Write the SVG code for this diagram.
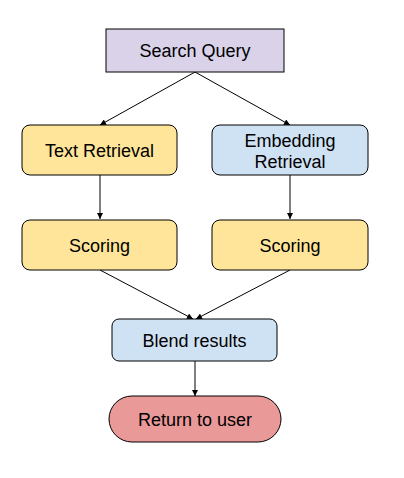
<svg xmlns="http://www.w3.org/2000/svg" width="404" height="478" viewBox="0 0 404 478">
<defs>
<style>
.n{stroke:#000;stroke-width:1}
.t{font-family:"Liberation Sans",Arial,sans-serif;font-size:18px;fill:#000;text-anchor:middle}
.c{stroke:#000;stroke-width:1;fill:none;marker-end:url(#ah)}
</style>
<marker id="ah" viewBox="0 0 10 10" refX="10" refY="5" markerWidth="7" markerHeight="6" orient="auto" markerUnits="userSpaceOnUse">
<path d="M0,0 L10,5 L0,10 z" fill="#000"/>
</marker>
</defs>
<rect width="404" height="478" fill="#fff"/>
<g id="connectors">
<line class="c" x1="195" y1="72" x2="100" y2="125"/>
<line class="c" x1="195" y1="72" x2="290" y2="125"/>
<line class="c" x1="100" y1="175" x2="100" y2="219"/>
<line class="c" x1="290" y1="175" x2="290" y2="219"/>
<line class="c" x1="100" y1="270" x2="193" y2="319"/>
<line class="c" x1="290" y1="270" x2="196" y2="319"/>
<line class="c" x1="195" y1="361" x2="195" y2="396"/>
</g>
<g id="search-query">
<rect class="n" x="106" y="29" width="178" height="43" fill="#d9d2e9"/>
<text class="t" x="195" y="57">Search Query</text>
</g>
<g id="text-retrieval">
<rect class="n" x="22" y="125" width="155" height="50" rx="8" fill="#ffe599"/>
<text class="t" x="99.5" y="157">Text Retrieval</text>
</g>
<g id="embedding-retrieval">
<rect class="n" x="212" y="125" width="156" height="50" rx="8" fill="#cfe2f3"/>
<text class="t" x="290" y="147">Embedding</text>
<text class="t" x="290" y="168">Retrieval</text>
</g>
<g id="scoring-left">
<rect class="n" x="22" y="220" width="155" height="50" rx="8" fill="#ffe599"/>
<text class="t" x="99.5" y="252">Scoring</text>
</g>
<g id="scoring-right">
<rect class="n" x="212" y="220" width="156" height="50" rx="8" fill="#ffe599"/>
<text class="t" x="290" y="252">Scoring</text>
</g>
<g id="blend-results">
<rect class="n" x="112" y="319" width="165" height="42" rx="7" fill="#cfe2f3"/>
<text class="t" x="194.5" y="347">Blend results</text>
</g>
<g id="return-to-user">
<rect class="n" x="109" y="396" width="172" height="46" rx="23" fill="#ea9999"/>
<text class="t" x="195" y="426">Return to user</text>
</g>
</svg>
